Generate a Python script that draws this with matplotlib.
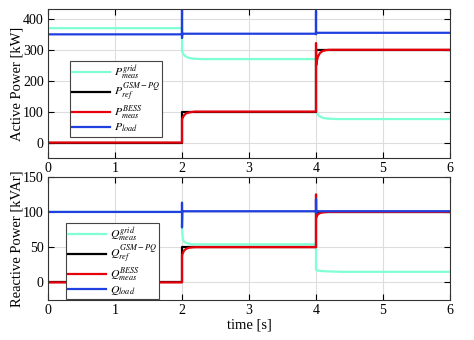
import numpy as np
import matplotlib
matplotlib.use("Agg")
import matplotlib.pyplot as plt

plt.rcParams['font.family'] = 'Liberation Serif'
plt.rcParams['mathtext.fontset'] = 'stix'

# ---------------- active power [kW] ----------------
t_pgrid = [0, 2.0, 2.0, 2.01, 2.03, 2.06, 2.1, 2.15, 2.2, 2.3, 4.0, 4.0, 4.01, 4.03, 4.06, 4.1, 4.15, 4.2, 4.3, 6]
p_grid = [370, 370, 295, 290, 283, 278, 274, 272, 271, 270, 270, 100, 97, 90, 84, 80, 78, 77, 76, 76]

t_pref = [0, 2.0, 2.0, 4.0, 4.0, 6]
p_ref = [0, 0, 100, 100, 300, 300]

t_pbess = [0, 2.0, 2.0, 2.01, 2.03, 2.06, 2.1, 2.15, 2.2, 4.0, 4.0, 4.003, 4.01, 4.03, 4.06, 4.1, 4.15, 4.2, 6]
p_bess = [0, 0, 75, 80, 88, 94, 97, 99, 100, 100, 322, 250, 262, 278, 290, 296, 299, 300, 300]

t_pload = [0, 2.0, 2.0, 2.0, 2.005, 4.0, 4.0, 4.0, 4.005, 6]
p_load = [350, 350, 430, 338, 352, 352, 425, 350, 355, 355]

# ---------------- reactive power [kVAr] ----------------
t_qgrid = [0, 2.0, 2.0, 2.01, 2.03, 2.06, 2.1, 2.15, 2.2, 2.3, 4.0, 4.0, 4.01, 4.05, 4.1, 4.2, 4.4, 6]
q_grid = [100, 100, 78, 62, 58, 56, 55, 54, 54, 54, 54, 18, 17, 16.5, 16, 15.5, 15, 15]

t_qref = [0, 2.0, 2.0, 4.0, 4.0, 6]
q_ref = [0, 0, 50, 50, 100, 100]

t_qbess = [0, 2.0, 2.0, 2.01, 2.03, 2.06, 2.1, 2.15, 2.2, 4.0, 4.0, 4.003, 4.01, 4.03, 4.06, 4.1, 4.15, 4.2, 6]
q_bess = [0, 0, 38, 41, 45, 47.5, 49, 49.7, 50, 50, 125, 92, 94, 96.5, 98.5, 99.3, 99.8, 100, 100]

t_qload = [0, 2.0, 2.0, 2.0, 2.005, 4.0, 4.0, 4.0, 4.005, 6]
q_load = [100, 100, 113, 78, 101, 101, 118, 98, 101, 101]

c_grid = '#7fffd4'
c_ref = 'black'
c_bess = '#e8000b'
c_load = '#1f3fdf'

fig = plt.figure(figsize=(4.74, 3.4), dpi=100)
ax1 = fig.add_axes([48/474, 1 - 158/340, 402/474, 149/340])
ax2 = fig.add_axes([48/474, 1 - 300/340, 402/474, 123.3/340])

lw = 1.6
ax1.plot(t_pgrid, p_grid, color=c_grid, lw=lw, label=r'$P_{meas}^{grid}$')
ax1.plot(t_pref, p_ref, color=c_ref, lw=lw, label=r'$P_{ref}^{GSM-PQ}$')
ax1.plot(t_pbess, p_bess, color=c_bess, lw=lw, label=r'$P_{meas}^{BESS}$')
ax1.plot(t_pload, p_load, color=c_load, lw=lw, label=r'$P_{load}$')

ax2.plot(t_qgrid, q_grid, color=c_grid, lw=lw, label=r'$Q_{meas}^{grid}$')
ax2.plot(t_qref, q_ref, color=c_ref, lw=lw, label=r'$Q_{ref}^{GSM-PQ}$')
ax2.plot(t_qbess, q_bess, color=c_bess, lw=lw, label=r'$Q_{meas}^{BESS}$')
ax2.plot(t_qload, q_load, color=c_load, lw=lw, label=r'$Q_{load}$')

ax1.set_ylim(-50, 432)
ax1.set_yticks([0, 100, 200, 300, 400])
ax1.set_ylabel('Active Power [kW]', fontsize=10.5)
ax2.set_ylim(-25, 150)
ax2.set_yticks([0, 50, 100, 150])
ax2.set_ylabel('Reactive Power [kVAr]', fontsize=10.5)
ax2.set_xlabel('time [s]', fontsize=10.5, labelpad=1)

for ax in (ax1, ax2):
    ax.set_xlim(0, 6)
    ax.set_xticks(range(7))
    ax.grid(True, color='#dddddd', lw=0.8)
    ax.tick_params(direction='in', top=True, right=True, labelsize=10, length=4, pad=3)
    for s in ax.spines.values():
        s.set_color('#333333')
        s.set_linewidth(0.8)
    ax.yaxis.set_label_coords(-0.06, 0.5)

leg_kw = dict(loc='upper left', fontsize=8.5, fancybox=False, handlelength=3.2,
              labelspacing=0.0, borderpad=0.2, handletextpad=0.3, framealpha=1)
leg1 = ax1.legend(bbox_to_anchor=(0.04, 0.69), **leg_kw)
leg2 = ax2.legend(bbox_to_anchor=(0.03, 0.67), **leg_kw)
for leg in (leg1, leg2):
    leg.get_frame().set_edgecolor('#444444')
    leg.get_frame().set_linewidth(0.8)

fig.savefig('out.png', dpi=100)
